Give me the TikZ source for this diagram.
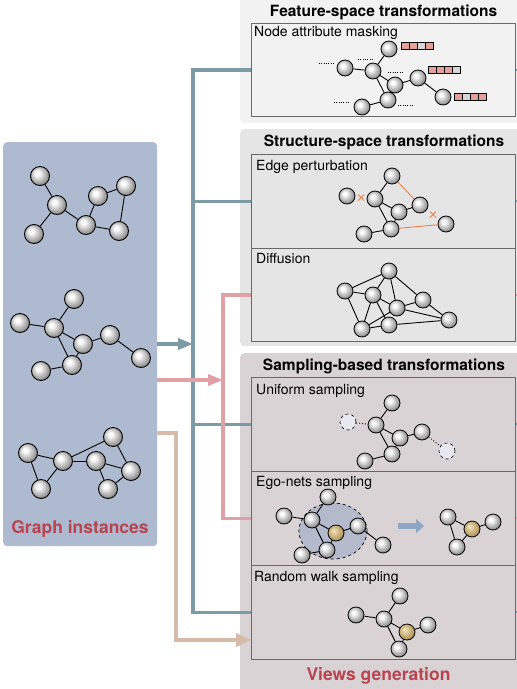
\documentclass[tikz,border=0pt]{standalone}
\usepackage{fontspec}
\setmainfont{TeX Gyre Heros}
\usepackage{tikz}
\usetikzlibrary{arrows.meta}
\usetikzlibrary{shapes.geometric}
\usetikzlibrary{positioning}

\definecolor{graphbg}{RGB}{174,186,207}
\definecolor{featbg}{RGB}{242,242,242}
\definecolor{structbg}{RGB}{229,229,229}
\definecolor{sampbg}{RGB}{217,211,213}
\definecolor{boxline}{RGB}{105,105,105}
\definecolor{labelred}{RGB}{184,68,80}
\definecolor{busblue}{RGB}{125,155,166}
\definecolor{buspink}{RGB}{224,160,166}
\definecolor{bustan}{RGB}{214,187,168}
\definecolor{maskpink}{RGB}{230,160,152}
\definecolor{maskgray}{RGB}{215,215,215}
\definecolor{perturb}{RGB}{240,130,70}
\definecolor{egofill}{RGB}{180,186,203}
\definecolor{egoarrow}{RGB}{143,166,197}
\definecolor{gold}{RGB}{215,178,100}
\definecolor{ghostfill}{RGB}{232,232,240}

\pgfdeclareradialshading{sphere}{\pgfpoint{-8bp}{8bp}}{color(0bp)=(white); color(5bp)=(white); color(28bp)=(black!48); color(50bp)=(black!55)}
\pgfdeclareradialshading{goldsphere}{\pgfpoint{-8bp}{8bp}}{color(0bp)=(gold!25!white); color(5bp)=(gold!55!white); color(28bp)=(gold!80!black); color(50bp)=(gold!65!black)}

\tikzset{
  ball/.style={circle, draw=black, line width=0.8pt, minimum size=16pt, inner sep=0pt, shading=sphere},
  bigball/.style={ball, line width=0.9pt, minimum size=19pt},
  egoball/.style={ball, shading=goldsphere},
  ghost/.style={circle, draw=black, dashed, line width=0.6pt, fill=ghostfill, minimum size=16pt, inner sep=0pt},
  link/.style={draw=black, line width=0.9pt},
  dotmark/.style={line width=0.9pt, dash pattern=on 0.9pt off 1.4pt},
  panel/.style={rectangle, rounded corners=4pt, anchor=north west, inner sep=0pt},
  viewbox/.style={rectangle, draw=boxline, line width=0.8pt, minimum width=264pt, anchor=north west, inner sep=0pt},
  title/.style={font=\fontsize{15.5}{18}\selectfont\bfseries, anchor=base, inner sep=0pt},
  viewlabel/.style={font=\fontsize{14}{16}\selectfont, anchor=base west, inner sep=0pt},
  biglabel/.style={font=\fontsize{17.5}{20}\selectfont\bfseries, text=labelred, anchor=base, inner sep=0pt},
  busline/.style={line width=3.5pt},
}

% attribute vector: x, y, cell colours
\newcommand{\attrbar}[3]{%
  \foreach \c [count=\i from 0] in {#3}
    \draw[line width=0.6pt, fill=\c] (#1+8*\i,#2) rectangle ++(8,7);
}

\begin{document}
\begin{tikzpicture}[x=1pt, y=-1pt]
\useasboundingbox (0,0) rectangle (517,689);

% panels on the right
\begin{scope}
\clip (0,0) rectangle (517,689);
\node at (240,-6)[panel, fill=featbg, minimum width=290pt, minimum height=129pt] (featpanel) {};
\node at (240,129)[panel, fill=structbg, minimum width=290pt, minimum height=217pt] (structpanel) {};
\node at (240,353)[panel, fill=sampbg, minimum width=290pt, minimum height=345pt] (samppanel) {};
\end{scope}

\node at (251,23)[viewbox, minimum height=93pt] (featbox) {};
\node at (251,154)[viewbox, minimum height=94pt] (edgebox) {};
\node at (251,248)[viewbox, minimum height=93pt] (diffbox) {};
\node at (251,377)[viewbox, minimum height=94pt] (unifbox) {};
\node at (251,471)[viewbox, minimum height=94pt] (egobox) {};
\node at (251,565)[viewbox, minimum height=94pt] (rwbox) {};

\node at (383.5,16.5)[title] (feattitle) {Feature-space transformations};
\node at (384,146.5)[title] (structtitle) {Structure-space transformations};
\node at (384,370)[title] (samptitle) {Sampling-based transformations};

\node at (254,36.7)[viewlabel] (masklabel) {Node attribute masking};
\node at (256,170.7)[viewlabel] (edgelabel) {Edge perturbation};
\node at (256,263.3)[viewlabel] (difflabel) {Diffusion};
\node at (256,394.3)[viewlabel] (uniflabel) {Uniform sampling};
\node at (256,486.7)[viewlabel] (egolabel) {Ego-nets sampling};
\node at (254,581.7)[viewlabel] (rwlabel) {Random walk sampling};

% panel on the left
\node at (3,142)[panel, fill=graphbg, minimum width=154pt, minimum height=404pt] (graphs) {};
\node at (80,533.5)[biglabel] (graphslabel) {Graph instances};
\node at (378.5,680)[biglabel] (viewslabel) {Views generation};

% connectors
\coordinate (bluebus) at (193,0);
\coordinate (bluein) at (157,344);
\coordinate (pinkbus) at (223,0);
\coordinate (pinkin) at (157,380);
\coordinate (tanin) at (157,433);
\coordinate (tanturn) at (176,640);
\coordinate (tanend) at (251,640);

\draw[busline, busblue] (featbox.west) -| (bluebus |- rwbox.west) -- (rwbox.west);
\draw[busline, busblue] (bluebus |- edgebox.west) -- (edgebox.west);
\draw[busline, busblue] (bluebus |- unifbox.west) -- (unifbox.west);
\draw[busline, busblue, -{Triangle[length=15pt, width=11pt]}] (bluein) -- (bluebus |- bluein);
\draw[busline, buspink] (diffbox.west) -| (pinkbus |- egobox.west) -- (egobox.west);
\draw[busline, buspink, -{Triangle[length=15pt, width=11pt]}] (pinkin) -- (pinkbus |- pinkin);
\draw[busline, bustan, line width=4pt, -{Triangle[length=15pt, width=13pt]}] (tanin) -| (tanturn) -- (tanend);
\foreach \b/\c in {featbox/busblue, edgebox/busblue, diffbox/buspink, unifbox/busblue, egobox/buspink, rwbox/busblue}
  \draw[\c, line width=2pt] (\b.east) -- ++(3,0);

% graph instances
\foreach \n/\x/\y in {ga/40/176, gb/57/205, gc/34/234, gd/86/225, ge/98/196, gf/126/186, gg/119/231,
                      ha/74/299, hb/20/323, hc/54/328, hd/83/344, he/110/335, hf/141/358, hg/72/365, hh/41/371,
                      ka/28/453, kb/63/461, kc/41/489, kd/96/461, ke/113/437, kf/131/471, kg/108/489}
  \node[bigball] (\n) at (\x,\y) {};
\foreach \s/\t in {ga/gb, gb/gc, gb/gd, gd/ge, gd/gg, ge/gf, gf/gg,
                   ha/hc, hb/hc, hc/hd, hc/hg, hd/hg, hd/he, he/hf, hg/hh,
                   ka/kb, ka/kc, kb/kc, kb/kd, kb/ke, kd/kf, kd/kg, ke/kf, kf/kg}
  \draw[link] (\s) -- (\t);

% node attribute masking
\draw[dotmark] (319,63) -- (335,63);
\draw[dotmark] (358,59) -- (373,59);
\draw[dotmark] (388,72) -- (404,72);
\draw[dotmark] (334,102) -- (350,102);
\draw[dotmark] (398,105) -- (413,105);
\attrbar{401}{42}{maskpink, maskpink, maskgray, maskpink}
\attrbar{428}{66}{maskpink, maskpink, maskpink, maskgray}
\attrbar{454}{93}{maskpink, maskgray, maskpink, maskpink}
\foreach \n/\x/\y in {fa/389/49, fb/345/68, fc/373/71, fd/395/85, fe/418/78, ff/443/97, fg/388/100, fh/362/107}
  \node[ball] (\n) at (\x,\y) {};
\foreach \s/\t in {fa/fc, fb/fc, fc/fd, fc/fg, fd/fg, fd/fe, fe/ff, fg/fh}
  \draw[link] (\s) -- (\t);

% edge perturbation
\foreach \n/\x/\y in {pa/392/176, pb/347/196, pc/375/199, pd/399/212, pe/420/205, pf/446/224, pg/391/229, ph/364/234}
  \node[ball] (\n) at (\x,\y) {};
\foreach \s/\t in {pa/pc, pc/pd, pc/pg, pd/pg, pd/pe, pg/ph}
  \draw[link] (\s) -- (\t);
\draw[perturb, line width=0.9pt] (pa) -- (pe);
\draw[perturb, line width=0.9pt] (pg) -- (pf);
\draw[perturb, line width=0.9pt] (361,197.5) ++(-3,-3) -- ++(6,6) ++(0,-6) -- ++(-6,6);
\draw[perturb, line width=0.9pt] (433,214.5) ++(-3,-3) -- ++(6,6) ++(0,-6) -- ++(-6,6);

% diffusion
\foreach \n/\x/\y in {da/389/271, db/345/291, dc/373/295, dd/397/308, de/423/300, df/449/320, dg/389/325, dh/362/329}
  \node[ball] (\n) at (\x,\y) {};
\foreach \s/\t in {db/da, db/dc, db/dh, da/dc, da/dd, da/de, dc/dh, dc/dd, dc/dg, dd/de, dd/df, de/df, dh/dd, dh/dg, dg/df}
  \draw[link] (\s) -- (\t);

% uniform sampling
\foreach \n/\x/\y in {ua/392/403, ub/376/425, uc/400/438, ud/422/432, ue/392/454, uf/365/461}
  \node[ball] (\n) at (\x,\y) {};
\node[ghost] (ux) at (348,422) {};
\node[ghost] (uy) at (447,451) {};
\foreach \s/\t in {ua/ub, ub/uc, ub/ue, uc/ue, uc/ud, ue/uf}
  \draw[link] (\s) -- (\t);
\draw[link, dotted] (ux) -- (ub);
\draw[link, dotted] (ud) -- (uy);

% ego-nets sampling
\node at (333,531)[ellipse, draw=black, dashed, line width=0.7pt, fill=egofill, minimum width=68pt, minimum height=56pt] (egoarea) {};
\foreach \n/\x/\y in {ea/328/497, eb/284/516, ec/312/520, ed/358/526, ee/383/545, ef/327/550, eh/302/555,
                      ra/448/517, rb/493/522, rc/457/547}
  \node[ball] (\n) at (\x,\y) {};
\node[egoball] (eg) at (336,533) {};
\node[egoball] (rg) at (472,529) {};
\foreach \s/\t in {ea/ec, eb/ec, ec/eg, ec/ef, eg/ed, eg/ef, ed/ee, ef/eh, ra/rg, rg/rb, rg/rc, ra/rc}
  \draw[link] (\s) -- (\t);
\coordinate (egofrom) at (398,526);
\coordinate (egoto) at (424,526);
\draw[egoarrow, line width=5.5pt, -{Triangle[length=8pt, width=14pt]}] (egofrom) -- (egoto);

% random walk sampling
\foreach \n/\x/\y in {wa/400/596, wb/356/615, wc/384/619, wd/428/625, we/399/649}
  \node[ball] (\n) at (\x,\y) {};
\node[egoball] (wg) at (407,632) {};
\foreach \s/\t in {wa/wc, wb/wc, wc/wg, wc/we, wg/wd, wg/we}
  \draw[link] (\s) -- (\t);

\end{tikzpicture}
\end{document}
